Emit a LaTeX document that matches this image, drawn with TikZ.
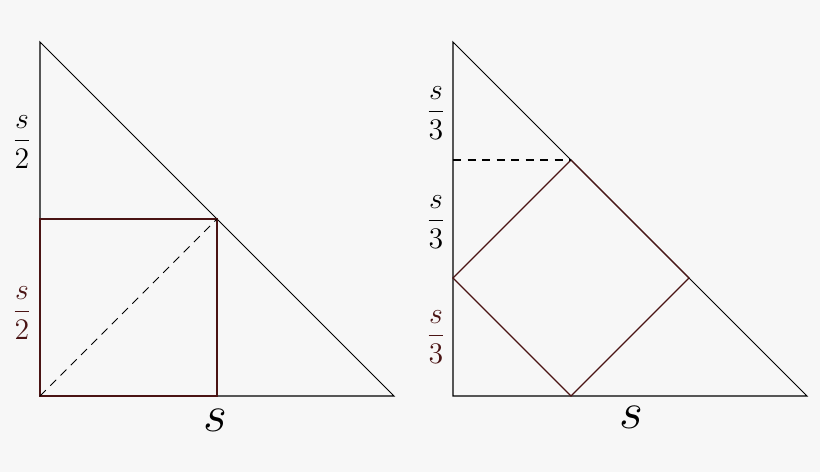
\documentclass[tikz,border=0pt]{standalone}
\usepackage{amsmath}
\usepackage{tikz}
\definecolor{bgray}{HTML}{F7F7F7}
\definecolor{sqred}{HTML}{4A1414}
\def\Triangle at (#1, #2) side (#3) #4; {
    \coordinate (#4-o) at (#1, #2);
    \coordinate (#4-t) at (#1, #2 + #3);
    \coordinate (#4-r) at (#1 + #3, #2);
    \draw (#4-t) -- (#4-o) -- (#4-r) -- cycle;
}

\begin{document}
\begin{tikzpicture}[line width=0.5pt]
        \fill[bgray] (-0.678, -1.288) rectangle (13.22, 6.712);
        \useasboundingbox (-0.678, -1.288) rectangle (13.22, 6.712);
        % Left: square on the corner
        \Triangle at (0, 0) side (6) L;
        \coordinate (L-a) at (3, 0);
        \coordinate (L-b) at (3, 3);
        \coordinate (L-c) at (0, 3);
        \draw[sqred, line width=0.6pt] (L-o) -- (L-a) -- (L-b) -- (L-c) -- cycle;
        \draw[dash pattern=on 4pt off 3pt] (L-o) -- (L-b);
        \node (L-up) at (-0.305, 4.305) {\Large $\dfrac{s}{2}$};
        \node[text=sqred] (L-lo) at (-0.305, 1.407) {\Large $\dfrac{s}{2}$};
        \node (L-s) at (2.966, -0.407) {\fontsize{25}{30}\selectfont $s$};
        % Right: square on the hypotenuse
        \Triangle at (7, 0) side (6) R;
        \coordinate (R-a) at (7, 2);
        \coordinate (R-b) at (9, 0);
        \coordinate (R-c) at (11, 2);
        \coordinate (R-d) at (9, 4);
        \coordinate (R-e) at (7, 4);
        \draw[sqred, line width=0.6pt] (R-a) -- (R-b) -- (R-c) -- (R-d) -- cycle;
        \draw[dash pattern=on 4pt off 3pt] (R-e) -- (R-d);
        \node (R-up) at (6.71, 4.797) {\Large $\dfrac{s}{3}$};
        \node (R-mid) at (6.71, 2.949) {\Large $\dfrac{s}{3}$};
        \node[text=sqred] (R-lo) at (6.71, 1.0) {\Large $\dfrac{s}{3}$};
        \node (R-s) at (10.03, -0.37) {\fontsize{25}{30}\selectfont $s$};
    \end{tikzpicture}
\end{document}
